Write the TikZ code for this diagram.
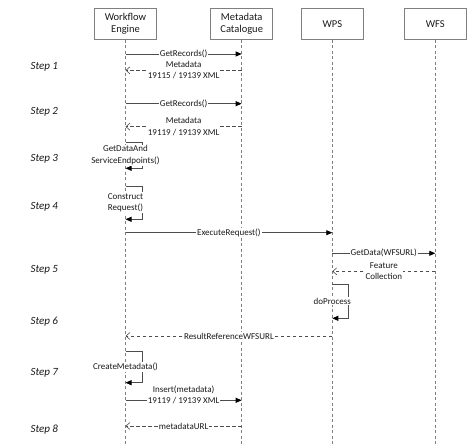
\documentclass[tikz,border=0pt]{standalone}
\usepackage{fontspec}
\setmainfont{Carlito}
\usetikzlibrary{arrows.meta, positioning}
\definecolor{SeqLine}{HTML}{4D4D4D}
\definecolor{SeqBox}{HTML}{7F7F7F}
\definecolor{SeqText}{HTML}{1A1A1A}
\tikzset{
    % Participant boxes
    actor/.style={
        rectangle,
        draw=SeqBox,
        fill=white,
        line width=0.8pt,
        minimum width=62pt,
        minimum height=31pt,
        align=center,
        text=SeqText,
        font=\fontsize{10.5}{12.5}\selectfont
    },
    lifeline/.style={
        draw=SeqBox,
        line width=0.6pt,
        dash pattern=on 3pt off 2.5pt
    },
    % Message styles
    call/.style={
        -{Triangle[length=6pt,width=5pt,color=black]},
        draw=SeqLine,
        line width=0.8pt
    },
    reply/.style={
        -{Straight Barb[length=4pt,width=7pt]},
        draw=SeqLine,
        line width=0.6pt,
        dash pattern=on 3.5pt off 2.5pt
    },
    msg/.style={
        fill=white,
        inner sep=1pt,
        align=center,
        text=SeqText,
        font=\fontsize{9}{11.5}\selectfont
    },
    steplabel/.style={
        anchor=west,
        text=SeqText,
        font=\fontsize{11}{13}\selectfont\itshape
    }
}
\begin{document}
\begin{tikzpicture}[x=1pt, y=-1pt]
    \useasboundingbox (0,0) rectangle (474,446);

    % Participants
    \node[actor] (we) at (125.5,23.8) {Workflow\\Engine};
    \node[actor] (mc) at (241.7,23.8) {Metadata\\Catalogue};
    \node[actor] (wps) at (332.3,23.8) {WPS};
    \node[actor] (wfs) at (435.3,23.8) {WFS};

    % Lifelines
    \coordinate (we end) at (125.5,446);
    \coordinate (mc end) at (241.7,446);
    \coordinate (wps end) at (332.3,446);
    \coordinate (wfs end) at (435.3,446);
    \draw[lifeline] (we) -- (we end);
    \draw[lifeline] (mc) -- (mc end);
    \draw[lifeline] (wps) -- (wps end);
    \draw[lifeline] (wfs) -- (wfs end);

    % Step labels
    \node[steplabel] (s1) at (27,66.7) {Step 1};
    \node[steplabel] (s2) at (27,111.7) {Step 2};
    \node[steplabel] (s3) at (27,159) {Step 3};
    \node[steplabel] (s4) at (27,206.7) {Step 4};
    \node[steplabel] (s5) at (27,270) {Step 5};
    \node[steplabel] (s6) at (27,322) {Step 6};
    \node[steplabel] (s7) at (27,373.3) {Step 7};
    \node[steplabel] (s8) at (27,429.3) {Step 8};

    % Step 1 and 2: catalogue queries
    \draw[call] (we |- 0,54) -- node[msg] {GetRecords()} (mc |- 0,54);
    \draw[reply] (mc |- 0,70.3) -- node[msg] {Metadata\\19115 / 19139 XML} (we |- 0,70.3);
    \draw[call] (we |- 0,103.7) -- node[msg] {GetRecords()} (mc |- 0,103.7);
    \draw[reply] (mc |- 0,126.7) -- node[msg] {Metadata\\19119 / 19139 XML} (we |- 0,126.7);

    % Step 3 and 4: self calls
    \draw[call] (we |- 0,142.7) -- ++(17,0) |- (we |- 0,168.3);
    \node[msg] (endpoints) at (125.5,155.2) {GetDataAnd\\ServiceEndpoints()};
    \draw[call] (we |- 0,186.7) -- ++(17,0) |- (we |- 0,219.3);
    \node[msg] (construct) at (125.5,202.8) {Construct\\Request()};

    % Step 5: execution
    \draw[call] (we |- 0,232.7) -- node[msg] {ExecuteRequest()} (wps |- 0,232.7);
    \draw[call] (wps |- 0,253.3) -- node[msg] {GetData(WFSURL)} (wfs |- 0,253.3);
    \draw[reply] (wfs |- 0,271.3) -- node[msg] {Feature\\Collection} (wps |- 0,271.3);

    % Step 6: processing
    \draw[call] (wps |- 0,284.3) -- ++(16.4,0) |- (wps |- 0,318.3);
    \node[msg] (process) at (332.3,301) {doProcess};
    \draw[reply] (wps |- 0,336) -- node[msg] {ResultReferenceWFSURL} (we |- 0,336);

    % Step 7 and 8: register result
    \draw[call] (we |- 0,351.3) -- ++(17,0) |- (we |- 0,382.7);
    \node[msg] (create) at (125.5,367) {CreateMetadata()};
    \draw[call] (we |- 0,400.3) -- node[msg, yshift=5.5pt] {Insert(metadata)\\19119 / 19139 XML} (mc |- 0,400.3);
    \draw[reply] (mc |- 0,426) -- node[msg] {metadataURL} (we |- 0,426);
\end{tikzpicture}
\end{document}
